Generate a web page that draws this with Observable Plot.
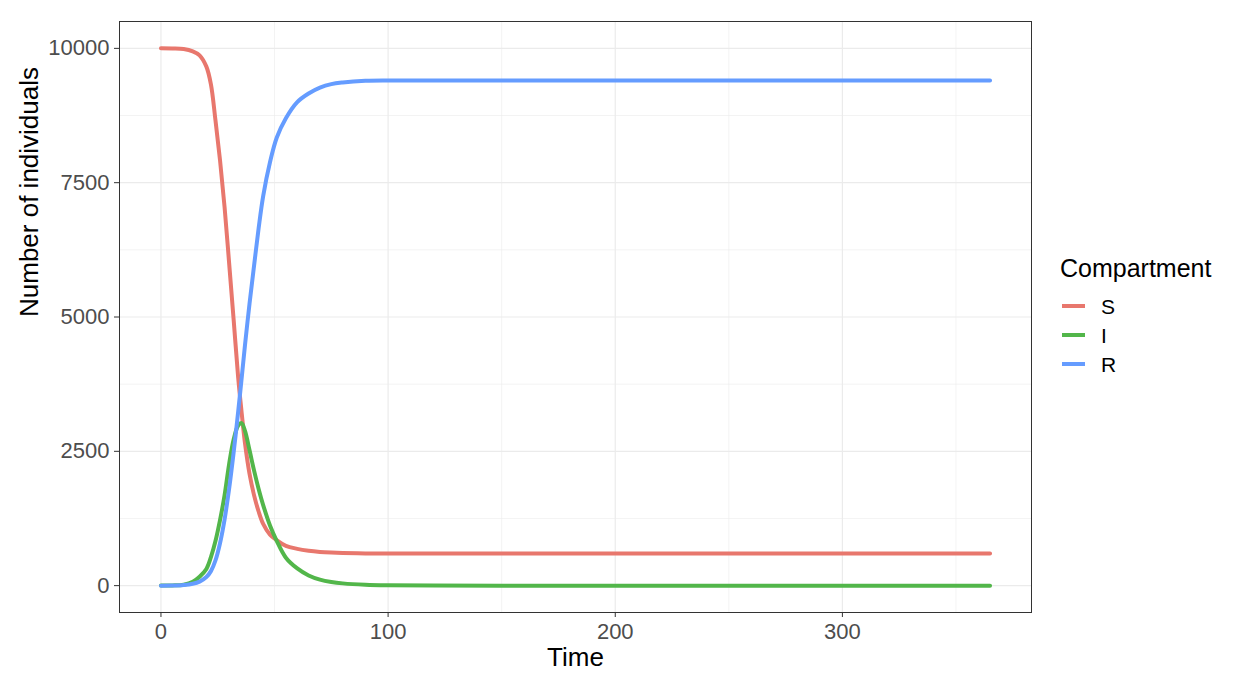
<!DOCTYPE html>
<html>
<head>
<meta charset="utf-8">
<script src="https://cdn.jsdelivr.net/npm/d3@7"></script>
<script src="https://cdn.jsdelivr.net/npm/@observablehq/plot@0.6"></script>
<style>
  html, body { margin: 0; padding: 0; background: #fff; }
  #wrap { position: relative; width: 1238px; height: 697px; font-family: "Liberation Sans", Arial, Helvetica, sans-serif; }
  #legend { position: absolute; left: 1040px; top: 0; }
</style>
</head>
<body>
<div id="wrap"></div>
<script>
// ---- data ----
const time = [0, 5, 10, 14, 17, 20, 22, 24, 26, 28, 30, 32, 34, 35.5, 37, 39, 41, 43, 45, 48, 51, 55, 60, 65, 70, 75, 80, 90, 100, 120, 150, 200, 250, 300, 365];
const S = [10000, 9998, 9988, 9945, 9870, 9660, 9330, 8660, 7920, 7050, 6010, 4950, 3870, 3230, 2650, 2080, 1680, 1380, 1150, 950, 845, 740, 685, 650, 628, 615, 607, 600, 598, 597, 597, 597, 597, 597, 597];
const I = [1, 4, 18, 70, 165, 310, 530, 830, 1220, 1680, 2260, 2720, 2980, 3025, 2880, 2520, 2140, 1800, 1500, 1120, 830, 520, 320, 190, 112, 68, 42, 16, 6, 1, 0, 0, 0, 0, 0];
const R = [0, 2, 12, 35, 75, 160, 270, 470, 790, 1230, 1800, 2480, 3240, 3850, 4480, 5250, 5960, 6650, 7250, 7880, 8340, 8700, 9000, 9160, 9270, 9335, 9365, 9395, 9402, 9403, 9403, 9403, 9403, 9403, 9403];
const compartments = ["S", "I", "R"];
const colors = ["#E8776D", "#52B64A", "#659CFF"];
const xMajor = [0, 100, 200, 300];
const xMinor = [50, 150, 250, 350];
const yMajor = [0, 2500, 5000, 7500, 10000];
const yMinor = [1250, 3750, 6250, 8750];
const xTitle = "Time";
const yTitle = "Number of individuals";
const legendTitle = "Compartment";

const series = {S, I, R};
const data = compartments.flatMap(c => time.map((t, i) => ({time: t, value: series[c][i], compartment: c})));

const font = '"Liberation Sans", Arial, Helvetica, sans-serif';

const plot = Plot.plot({
  width: 1040,
  height: 697,
  marginLeft: 119,
  marginRight: 9,
  marginTop: 21,
  marginBottom: 85,
  style: {fontFamily: font, fontSize: "22px", background: "white", color: "#4D4D4D", overflow: "visible"},
  x: {domain: [-18.25, 383.25], label: null},
  y: {domain: [-500, 10500], label: null},
  color: {domain: compartments, range: colors},
  marks: [
    Plot.gridX(xMinor, {stroke: "#EBEBEB", strokeOpacity: 1, strokeWidth: 0.6}),
    Plot.gridY(yMinor, {stroke: "#EBEBEB", strokeOpacity: 1, strokeWidth: 0.6}),
    Plot.gridX(xMajor, {stroke: "#EBEBEB", strokeOpacity: 1, strokeWidth: 1.2}),
    Plot.gridY(yMajor, {stroke: "#EBEBEB", strokeOpacity: 1, strokeWidth: 1.2}),
    Plot.line(data, {x: "time", y: "value", z: "compartment", stroke: "compartment", strokeWidth: 4, curve: "catmull-rom"}),
    Plot.frame({stroke: "#333333", strokeWidth: 1}),
    Plot.axisX(xMajor, {tickSize: 5, tickPadding: 6, stroke: "#333333", fill: "#4D4D4D", fontSize: 22, label: null}),
    Plot.axisY(yMajor, {tickSize: 5, tickPadding: 5, stroke: "#333333", fill: "#4D4D4D", fontSize: 22, label: null, tickFormat: d => String(d)}),
    Plot.text([xTitle], {frameAnchor: "bottom", dy: 53, fontSize: 26, fill: "black", text: d => d}),
    Plot.text([yTitle], {frameAnchor: "left", dx: -90, rotate: -90, fontSize: 26, fill: "black", text: d => d})
  ]
});

const wrap = document.getElementById("wrap");
wrap.appendChild(plot);

// legend (line keys) using the plot's color scale
const colorScale = plot.scale("color");
const lg = d3.select(wrap).append("svg").attr("id", "legend")
  .attr("width", 198).attr("height", 697)
  .style("font-family", font);
lg.append("text").attr("x", 20).attr("y", 277).attr("font-size", 25).attr("fill", "black").text(legendTitle);
compartments.forEach((c, i) => {
  const y = 306 + i * 29;
  lg.append("line").attr("x1", 22).attr("x2", 45).attr("y1", y).attr("y2", y)
    .attr("stroke", colorScale.apply(c)).attr("stroke-width", 4);
  lg.append("text").attr("x", 61).attr("y", y + 8).attr("font-size", 21).attr("fill", "black").text(c);
});
</script>
</body>
</html>
